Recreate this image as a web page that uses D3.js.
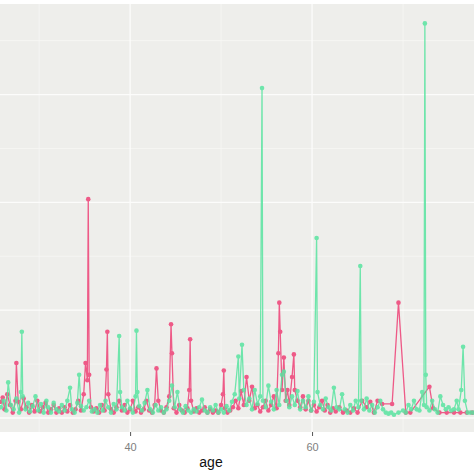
<!DOCTYPE html>
<html>
<head>
<meta charset="utf-8">
<script src="https://cdn.jsdelivr.net/npm/d3@7"></script>
<style>
html,body{margin:0;padding:0;background:#fff;}
svg{display:block;}
</style>
</head>
<body>
<svg id="chart" width="474" height="474"></svg>
<script>
// ---- data ----
const pinkAge = [25.8,26.0,26.2,26.5,26.8,27.1,27.4,27.5,27.7,28.0,28.3,28.6,28.9,29.2,29.5,29.8,30.1,30.4,30.7,31.0,31.3,31.6,31.9,32.2,32.5,32.8,33.1,33.4,33.7,34.0,34.3,34.6,34.9,35.1,35.3,35.4,35.5,35.7,36.0,36.3,36.6,36.9,37.2,37.4,37.5,37.6,37.9,38.2,38.5,38.8,39.1,39.4,39.7,40.0,40.3,40.6,40.9,41.2,41.5,41.8,42.1,42.4,42.7,42.9,43.1,43.4,43.7,44.0,44.3,44.5,44.6,44.8,45.1,45.4,45.7,46.0,46.3,46.5,46.6,46.7,47.0,47.3,47.6,47.9,48.2,48.5,48.8,49.1,49.4,49.7,50.0,50.2,50.3,50.4,50.7,51.0,51.3,51.6,51.9,52.2,52.5,52.8,53.1,53.4,53.7,54.0,54.3,54.6,54.9,55.2,55.5,55.8,56.1,56.3,56.4,56.5,56.7,56.9,57.1,57.3,57.5,57.8,58.0,58.1,58.4,58.7,59.0,59.3,59.6,59.9,60.2,60.5,60.8,61.1,61.4,61.7,62.0,62.3,62.6,63.0,63.4,63.8,64.2,64.6,65.0,65.5,66.0,66.4,66.8,67.2,67.7,68.8,69.5,70.3,70.8,72.9,73.3,74.0,74.8,75.6,76.3,77.0,77.6];
const pinkValue = [0.15,0.19,0.08,0.22,0.12,0.05,0.16,0.51,0.15,0.08,0.18,0.10,0.05,0.12,0.06,0.16,0.06,0.10,0.14,0.05,0.08,0.12,0.05,0.09,0.05,0.10,0.06,0.12,0.05,0.08,0.16,0.07,0.22,0.51,0.35,2.03,0.40,0.10,0.06,0.09,0.05,0.12,0.07,0.45,0.80,0.22,0.08,0.05,0.10,0.16,0.07,0.12,0.05,0.08,0.16,0.06,0.10,0.05,0.08,0.16,0.07,0.05,0.12,0.46,0.16,0.07,0.05,0.10,0.20,0.87,0.60,0.09,0.05,0.12,0.07,0.05,0.09,0.26,0.73,0.16,0.06,0.09,0.05,0.07,0.10,0.05,0.08,0.05,0.07,0.05,0.12,0.22,0.44,0.09,0.05,0.07,0.10,0.16,0.09,0.25,0.12,0.38,0.16,0.29,0.09,0.12,0.06,0.10,0.16,0.07,0.12,0.20,0.09,0.60,1.07,0.80,0.26,0.56,0.16,0.26,0.12,0.38,0.59,0.26,0.16,0.10,0.20,0.08,0.16,0.07,0.12,0.06,0.10,0.16,0.07,0.12,0.05,0.09,0.06,0.10,0.05,0.07,0.05,0.09,0.05,0.16,0.10,0.15,0.05,0.16,0.13,0.13,1.07,0.05,0.05,0.29,0.09,0.05,0.05,0.05,0.05,0.05,0.05];

const greenAge = [25.8,26.1,26.4,26.6,26.9,27.2,27.5,27.8,28.0,28.1,28.2,28.5,28.8,29.0,29.3,29.6,29.9,30.2,30.5,30.8,31.0,31.3,31.6,31.9,32.2,32.5,32.8,33.1,33.4,33.6,33.9,34.2,34.4,34.6,34.9,35.2,35.5,35.8,36.1,36.4,36.7,37.0,37.3,37.6,37.9,38.2,38.5,38.8,38.9,39.1,39.4,39.7,40.0,40.3,40.6,40.7,40.8,41.0,41.3,41.6,41.9,42.2,42.5,42.8,43.1,43.4,43.7,44.0,44.3,44.6,44.9,45.2,45.5,45.8,46.1,46.4,46.7,47.0,47.3,47.6,47.9,48.2,48.5,48.8,49.1,49.4,49.7,50.0,50.3,50.6,50.9,51.2,51.5,51.9,52.0,52.3,52.5,52.8,53.1,53.4,53.7,54.0,54.3,54.5,54.6,54.9,55.2,55.5,55.8,56.1,56.4,56.7,56.9,57.2,57.5,57.8,58.1,58.4,58.7,59.0,59.3,59.6,59.9,60.2,60.5,60.6,60.9,61.2,61.5,61.8,62.1,62.4,62.7,63.0,63.3,63.6,63.9,64.2,64.5,64.8,65.1,65.3,65.4,65.7,66.0,66.3,66.6,66.9,67.2,67.5,67.8,68.1,68.4,68.7,69.0,69.5,70.0,70.3,70.6,70.9,71.2,71.5,71.8,72.1,72.3,72.4,72.5,72.6,72.9,73.2,73.5,73.8,74.1,74.4,74.7,75.0,75.3,75.6,75.9,76.1,76.4,76.6,76.8,77.1,77.4,77.7];
const greenValue = [0.10,0.16,0.07,0.33,0.12,0.08,0.18,0.05,0.24,0.80,0.20,0.08,0.14,0.06,0.11,0.20,0.07,0.13,0.05,0.16,0.10,0.05,0.14,0.08,0.06,0.12,0.07,0.16,0.28,0.08,0.05,0.14,0.40,0.11,0.07,0.10,0.16,0.06,0.08,0.05,0.12,0.07,0.16,0.10,0.05,0.13,0.08,0.76,0.24,0.10,0.07,0.16,0.09,0.05,0.20,0.81,0.24,0.11,0.07,0.14,0.26,0.08,0.05,0.12,0.07,0.10,0.05,0.08,0.16,0.30,0.10,0.24,0.08,0.05,0.11,0.07,0.05,0.08,0.06,0.10,0.17,0.07,0.05,0.10,0.07,0.12,0.05,0.08,0.05,0.11,0.07,0.15,0.22,0.57,0.18,0.68,0.26,0.12,0.18,0.08,0.26,0.13,0.20,3.06,0.16,0.10,0.30,0.15,0.08,0.26,0.12,0.40,0.43,0.16,0.10,0.20,0.12,0.25,0.08,0.16,0.10,0.20,0.07,0.15,1.67,0.24,0.12,0.08,0.18,0.10,0.07,0.28,0.10,0.08,0.22,0.08,0.05,0.12,0.07,0.16,0.10,1.41,0.16,0.08,0.18,0.07,0.12,0.05,0.10,0.16,0.08,0.05,0.04,0.05,0.03,0.05,0.07,0.05,0.12,0.08,0.16,0.08,0.07,0.24,0.12,3.66,0.40,0.10,0.07,0.16,0.08,0.05,0.20,0.12,0.08,0.10,0.07,0.08,0.16,0.08,0.26,0.66,0.16,0.05,0.05,0.05];

const xTicks = [40, 60];
const xMinor = [30, 50, 70];
const yMajor = [0, 1, 2, 3];
const yMinor = [0.5, 1.5, 2.5, 3.5];
const xTitle = "age";

// ---- layout ----
const panel = {left: 0, right: 474, top: 4, bottom: 432};
const svg = d3.select("#chart");

const x = d3.scaleLinear().domain([25.7, 77.8]).range([panel.left, panel.right]);
const y = d3.scaleLinear().domain([-0.13, 3.84]).range([panel.bottom, panel.top]);

svg.append("rect").attr("x", panel.left).attr("y", panel.top)
  .attr("width", panel.right - panel.left).attr("height", panel.bottom - panel.top)
  .attr("fill", "#eeeeeb");

const grid = svg.append("g");
grid.selectAll(".ymin").data(yMinor).enter().append("line")
  .attr("x1", panel.left).attr("x2", panel.right)
  .attr("y1", d => y(d)).attr("y2", d => y(d))
  .attr("stroke", "#f7f7f5").attr("stroke-width", 0.8);
grid.selectAll(".xmin").data(xMinor).enter().append("line")
  .attr("y1", panel.top).attr("y2", panel.bottom)
  .attr("x1", d => x(d)).attr("x2", d => x(d))
  .attr("stroke", "#f7f7f5").attr("stroke-width", 0.8);
grid.selectAll(".ymaj").data(yMajor).enter().append("line")
  .attr("x1", panel.left).attr("x2", panel.right)
  .attr("y1", d => y(d)).attr("y2", d => y(d))
  .attr("stroke", "#fcfcfb").attr("stroke-width", 1.3);
grid.selectAll(".xmaj").data(xTicks).enter().append("line")
  .attr("y1", panel.top).attr("y2", panel.bottom)
  .attr("x1", d => x(d)).attr("x2", d => x(d))
  .attr("stroke", "#fcfcfb").attr("stroke-width", 1.3);

const series = [
  {age: pinkAge, val: pinkValue, color: "#ee4a7d", op: 0.9},
  {age: greenAge, val: greenValue, color: "#58e4a0", op: 0.85}
];

const line = d3.line().x(d => x(d[0])).y(d => y(d[1]));
series.forEach(s => {
  const pts = s.age.map((a, i) => [a, s.val[i]]);
  const g = svg.append("g").attr("opacity", s.op);
  g.append("path").datum(pts).attr("d", line)
    .attr("fill", "none").attr("stroke", s.color).attr("stroke-width", 1.3)
    .attr("stroke-linejoin", "round");
  g.selectAll("circle").data(pts).enter().append("circle")
    .attr("cx", d => x(d[0])).attr("cy", d => y(d[1])).attr("r", 2.3)
    .attr("fill", s.color);
});

// x axis
const axis = d3.axisBottom(x).tickValues(xTicks).tickSize(4).tickPadding(7);
const ax = svg.append("g").attr("transform", `translate(0,${panel.bottom})`).call(axis);
ax.select(".domain").remove();
ax.selectAll(".tick line").attr("stroke", "#555").attr("stroke-width", 1);
ax.selectAll(".tick text").attr("fill", "#808080").attr("font-size", 11)
  .attr("font-family", "Liberation Sans, Arial, sans-serif");

svg.append("text").attr("x", 211).attr("y", 467).attr("text-anchor", "middle")
  .attr("font-family", "Liberation Sans, Arial, sans-serif").attr("font-size", 14)
  .attr("fill", "#111").text(xTitle);
</script>
</body>
</html>
